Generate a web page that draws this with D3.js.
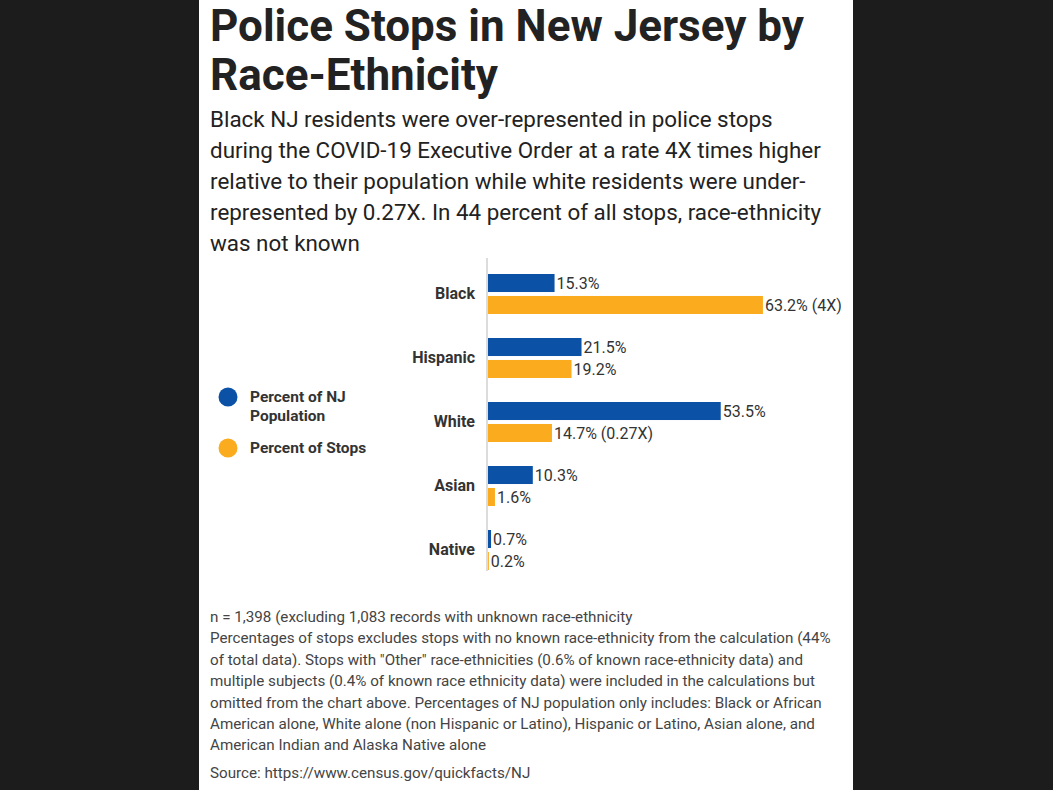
<!DOCTYPE html>
<html>
<head>
<meta charset="utf-8">
<script src="https://cdn.jsdelivr.net/npm/d3@7"></script>
<style>
  body { margin: 0; background: #1c1c1c; }
  svg { display: block; }
</style>
</head>
<body>
<script>
const categories = ['Black', 'Hispanic', 'White', 'Asian', 'Native'];
const populationPct = [15.3, 21.5, 53.5, 10.3, 0.7];
const stopsPct = [63.2, 19.2, 14.7, 1.6, 0.2];
const stopsNotes = [' (4X)', '', ' (0.27X)', '', ''];
const seriesNames = ['Percent of NJ Population', 'Percent of Stops'];

const titleLines = ['Police Stops in New Jersey by', 'Race-Ethnicity'];
const subtitleLines = [
  'Black NJ residents were over-represented in police stops',
  'during the COVID-19 Executive Order at a rate 4X times higher',
  'relative to their population while white residents were under-',
  'represented by 0.27X. In 44 percent of all stops, race-ethnicity',
  'was not known'
];
const noteLines = [
  'n = 1,398 (excluding 1,083 records with unknown race-ethnicity',
  'Percentages of stops excludes stops with no known race-ethnicity from the calculation (44%',
  'of total data). Stops with "Other" race-ethnicities (0.6% of known race-ethnicity data) and',
  'multiple subjects (0.4% of known race ethnicity data) were included in the calculations but',
  'omitted from the chart above. Percentages of NJ population only includes: Black or African',
  'American alone, White alone (non Hispanic or Latino),  Hispanic or Latino, Asian alone, and',
  'American Indian and Alaska Native alone'
];
const sourceLine = 'Source: https://www.census.gov/quickfacts/NJ';

const WIDTH = 1053;
const HEIGHT = 790;
const FONT = 'Roboto, "Liberation Sans", sans-serif';
const BLUE = '#0b52a6';
const ORANGE = '#fbab1e';

const data = categories.map((c, i) => ({
  cat: c,
  values: [
    { key: 0, v: populationPct[i], label: populationPct[i] + '%' },
    { key: 1, v: stopsPct[i], label: stopsPct[i] + '%' + stopsNotes[i] }
  ]
}));

const svg = d3.select('body').append('svg')
  .attr('width', WIDTH)
  .attr('height', HEIGHT);

// white panel
svg.append('rect')
  .attr('x', 199).attr('y', 0)
  .attr('width', 654).attr('height', HEIGHT)
  .attr('fill', '#fff');

// title
svg.append('g').selectAll('text')
  .data(titleLines)
  .enter().append('text')
  .attr('x', 210)
  .attr('y', (d, i) => 41 + i * 49)
  .attr('font-family', FONT)
  .attr('font-weight', 700)
  .attr('font-size', 44)
  .attr('fill', '#222')
  .text(d => d);

svg.append('g').selectAll('text')
  .data(subtitleLines)
  .enter().append('text')
  .attr('x', 210)
  .attr('y', (d, i) => 127 + i * 31)
  .attr('font-family', FONT)
  .attr('font-size', 22.4)
  .attr('fill', '#222')
  .text(d => d);

// chart
const x = d3.scaleLinear()
  .domain([0, 100])
  .range([488, 923]);

const y = d3.scaleBand()
  .domain(categories)
  .range([274, 570])
  .paddingInner(0.375)
  .paddingOuter(0);

const ySub = d3.scaleBand()
  .domain([0, 1])
  .range([0, y.bandwidth()])
  .paddingInner(0.18);

svg.append('line')
  .attr('x1', x(0) - 1).attr('x2', x(0) - 1)
  .attr('y1', 258).attr('y2', 571)
  .attr('stroke', '#d0d0d0')
  .attr('stroke-width', 1.5);

const groups = svg.append('g').selectAll('g')
  .data(data)
  .enter().append('g')
  .attr('transform', d => `translate(0,${y(d.cat)})`);

groups.selectAll('rect')
  .data(d => d.values)
  .enter().append('rect')
  .attr('x', x(0))
  .attr('y', d => ySub(d.key))
  .attr('width', d => x(d.v) - x(0))
  .attr('height', ySub.bandwidth())
  .attr('fill', d => d.key === 0 ? BLUE : ORANGE);

groups.selectAll('text.val')
  .data(d => d.values)
  .enter().append('text')
  .attr('class', 'val')
  .attr('x', d => x(d.v) + 2)
  .attr('y', d => ySub(d.key) + ySub.bandwidth() / 2)
  .attr('dy', '0.35em')
  .attr('font-family', FONT)
  .attr('font-size', 16)
  .attr('fill', '#333')
  .text(d => d.label);

const axisY = d3.axisLeft(y).tickSize(0).tickPadding(13);
svg.append('g')
  .attr('transform', `translate(${x(0)},0)`)
  .call(axisY)
  .call(g => g.select('.domain').remove())
  .call(g => g.selectAll('text')
    .attr('font-family', FONT)
    .attr('font-size', 16)
    .attr('font-weight', 700)
    .attr('fill', '#333'));

// legend
const legend = svg.append('g');
const legendItems = [
  { lines: ['Percent of NJ', 'Population'], color: BLUE, y: 397 },
  { lines: ['Percent of Stops'], color: ORANGE, y: 448 }
];
legendItems.forEach((it, i) => {
  legend.append('circle')
    .attr('cx', 228).attr('cy', it.y)
    .attr('r', 9.5)
    .attr('fill', it.color);
  legend.append('g').selectAll('text')
    .data(it.lines)
    .enter().append('text')
    .attr('x', 250)
    .attr('y', (d, j) => it.y + j * 19)
    .attr('dy', '0.35em')
    .attr('font-family', FONT)
    .attr('font-size', 15.5)
    .attr('font-weight', 700)
    .attr('fill', '#333')
    .text(d => d);
});

// notes
svg.append('g').selectAll('text')
  .data(noteLines)
  .enter().append('text')
  .attr('x', 210)
  .attr('y', (d, i) => 622 + i * 21.4)
  .attr('font-family', FONT)
  .attr('font-size', 15.2)
  .attr('fill', '#444')
  .text(d => d);

svg.append('text')
  .attr('x', 210)
  .attr('y', 778)
  .attr('font-family', FONT)
  .attr('font-size', 15.2)
  .attr('fill', '#444')
  .text(sourceLine);
</script>
</body>
</html>
